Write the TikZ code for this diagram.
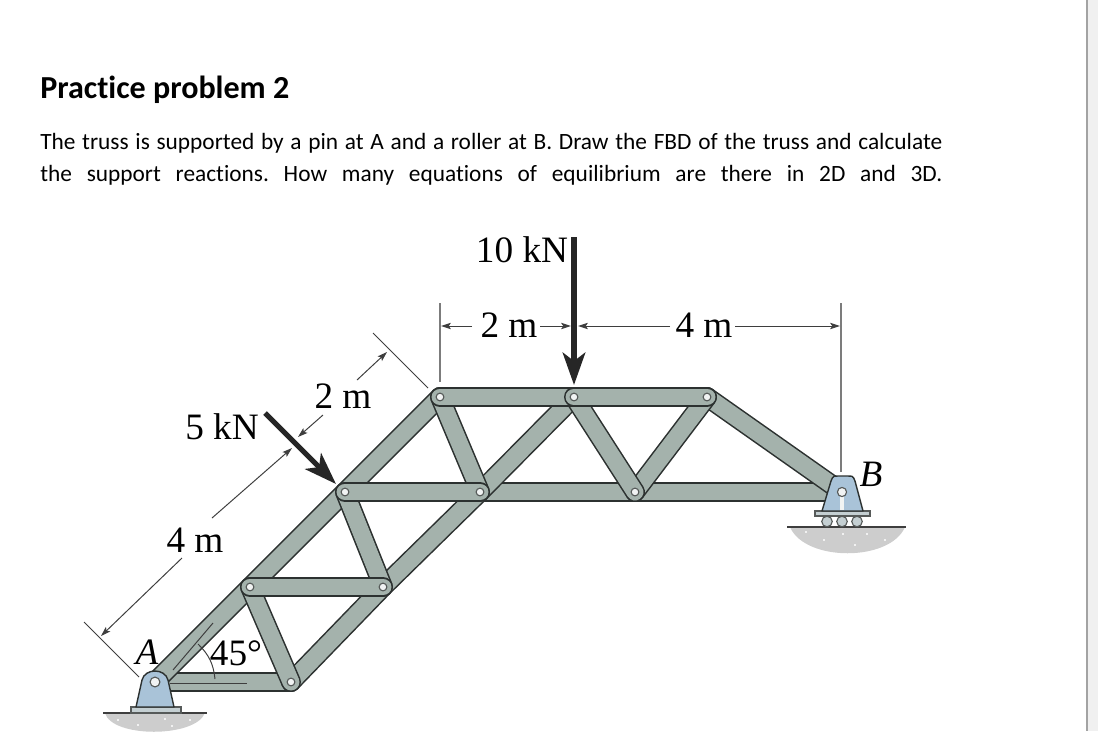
\documentclass[tikz,border=0pt]{standalone}
\usepackage{fontspec}
\setmainfont[Ligatures=CommonOff]{Carlito}
\newfontfamily\figfont{Liberation Serif}
\usetikzlibrary{arrows.meta}
\definecolor{memberfill}{HTML}{A4B2AC}
\definecolor{memberedge}{HTML}{2C3130}
\definecolor{supportfill}{HTML}{A9C3D8}
\definecolor{platefill}{HTML}{C4CFD2}
\definecolor{groundfill}{HTML}{CDCDCD}
\definecolor{dimgray}{HTML}{3E3E3E}
\definecolor{extgray}{HTML}{7C7C7C}
\tikzset{
	member/.style={line cap=round,line join=round,draw=memberedge,line width=1.1pt,double=memberfill,double distance=12pt},
	hole/.style={circle,draw=memberedge!80,fill=white!85!memberfill,line width=0.8pt,inner sep=0pt,minimum size=5.5pt},
	support/.style={draw=memberedge,fill=supportfill,line width=1pt,line join=round},
	plate/.style={draw=memberedge!80,fill=platefill,line width=0.8pt},
	ground/.style={fill=groundfill,draw=none},
	floorline/.style={draw=dimgray,line width=1pt},
	dimline/.style={draw=dimgray,line width=0.7pt},
	extline/.style={draw=extgray,line width=1.1pt},
	force/.style={draw=black!85,line width=3.6pt,-{Stealth[length=23pt,width=16pt,inset=6pt]}},
	figtext/.style={font=\figfont\fontsize{26.5}{26.5}\selectfont,inner sep=0pt},
	speck/.style={circle,fill=white,inner sep=0pt,minimum size=1.5pt}
}
\begin{document}
\begin{tikzpicture}[x=0.025cm,y=-0.025cm,>={Stealth[length=7pt,width=4.5pt,inset=1.5pt]}]
	\useasboundingbox (0,0) rectangle (1098,731);
	\fill[black!6] (1087,0) rectangle (1098,731);
	\draw[extgray!70,line width=0.8pt] (1087,0) -- (1087,731);

	\node[anchor=base west,inner sep=0pt,font=\bfseries\fontsize{22.8}{22.8}\selectfont] (title) at (40,98) {Practice problem 2};
	\node[anchor=base west,inner sep=0pt,text width=641.5pt,align=justify,font=\fontsize{16.6}{22.8}\selectfont] (problem) at (40,149)
		{\frenchspacing\parfillskip=0pt The truss is supported by a pin at A and a roller at B. Draw the FBD of the truss and calculate\linebreak
		the support reactions. How many equations of equilibrium are there in 2D and 3D.\par};

	\coordinate (a) at (155,682);
	\coordinate (b) at (842,492);
	\coordinate (l1) at (250,587);
	\coordinate (l2) at (345,492);
	\coordinate (t1) at (440,397);
	\coordinate (t2) at (574,397);
	\coordinate (t3) at (707,397);
	\coordinate (r1) at (291,682);
	\coordinate (r2) at (383,587);
	\coordinate (m1) at (480,492);
	\coordinate (m2) at (635,492);

	\draw[member] (a) -- (r1);
	\draw[member] (m1) -- (b);
	\draw[member] (t3) -- (b);
	\draw[member] (a) -- (l1) -- (l2) -- (t1);
	\draw[member] (r1) -- (r2) -- (m1) -- (t2);
	\draw[member] (t3) -- (m2);
	\draw[member] (t2) -- (m2);
	\draw[member] (t1) -- (m1);
	\draw[member] (l2) -- (r2);
	\draw[member] (l1) -- (r1);
	\draw[member] (l1) -- (r2);
	\draw[member] (l2) -- (m1);
	\draw[member] (t1) -- (t2);
	\draw[member] (t2) -- (t3);

	\foreach \j in {l1,l2,t1,t2,t3,r1,r2,m1,m2}
		\node[hole] (h\j) at (\j) {};

	\fill[ground] (105,713) .. controls (112,738) and (195,738) .. (205,713) -- cycle;
	\fill[ground] (790,527) .. controls (805,562) and (890,562) .. (905,527) -- cycle;
	\foreach \i/\x/\y in {1/118/720,2/138/725,3/165/719,4/172/726,5/190/720,6/806/532,7/824/540,8/843/534,9/855/545,10/867/534,11/885/540}
		\node[speck] (speck\i) at (\x,\y) {};

	\draw[floorline] (103,713) -- (207,713);
	\draw[floorline] (787,527) -- (906,527);

	\draw[plate] (131,707) rectangle (181,713);
	\draw[support] (136,707) -- (142,680) .. controls (145,668) and (165,668) .. (168,680) -- (174,707) -- cycle;
	\node[hole,minimum size=7pt] (pinA) at (a) {};

	\foreach \i/\x in {1/827,2/842,3/857}
		\node[hole,minimum size=7.5pt,fill=platefill] (roller\i) at (\x,521.5) {};
	\draw[plate] (815,511) rectangle (870,516);
	\draw[support] (822,511) -- (831,481) .. controls (833,475) and (835,476) .. (838,476) -- (848,476) .. controls (851,476) and (853,475) .. (855,481) -- (863,511) -- cycle;
	\fill[white!85!memberfill] (840,492) rectangle (844,510);
	\node[hole,minimum size=6.5pt] (pinB) at (b) {};

	\coordinate (forceA) at (574,237);
	\coordinate (forceB) at (574,385);
	\draw[force] (forceA) -- (forceB);
	\coordinate (forceC) at (265,413);
	\coordinate (forceD) at (336,484);
	\draw[force] (forceC) -- (forceD);

	\node[figtext] (load1) at (522,250) {10 kN};
	\node[figtext] (load2) at (222,427) {5 kN};
	\node[figtext] (dim1) at (509,325) {2 m};
	\node[figtext] (dim2) at (704,325) {4 m};
	\node[figtext] (dim3) at (343,396) {2 m};
	\node[figtext] (dim4) at (195,540) {4 m};
	\node[figtext,font=\figfont\itshape\fontsize{26.5}{26.5}\selectfont] (pinlabel) at (147,652) {A};
	\node[figtext,font=\figfont\itshape\fontsize{26.5}{26.5}\selectfont] (rollerlabel) at (871,474) {B};
	\node[figtext] (angle) at (236,653) {45°};

	\coordinate (e1a) at (440,303);
	\coordinate (e1b) at (440,382);
	\coordinate (e2a) at (841,303);
	\coordinate (e2b) at (841,472);
	\draw[extline] (e1a) -- (e1b);
	\draw[extline] (e2a) -- (e2b);
	\coordinate (e3a) at (373,333);
	\coordinate (e3b) at (428,388);
	\coordinate (e4a) at (84,622);
	\coordinate (e4b) at (139,677);
	\draw[dimline] (e3a) -- (e3b);
	\draw[dimline] (e4a) -- (e4b);

	\coordinate (d1a) at (441,326);
	\coordinate (d1b) at (472,326);
	\coordinate (d1c) at (540,326);
	\coordinate (d1d) at (571,326);
	\coordinate (d2a) at (578,326);
	\coordinate (d2b) at (670,326);
	\coordinate (d2c) at (735,326);
	\coordinate (d2d) at (840,326);
	\draw[dimline,->] (d1b) -- (d1a);
	\draw[dimline,->] (d1c) -- (d1d);
	\draw[dimline,->] (d2b) -- (d2a);
	\draw[dimline,->] (d2c) -- (d2d);

	\coordinate (d3a) at (323,415);
	\coordinate (d3b) at (298,437);
	\coordinate (d3c) at (357,380);
	\coordinate (d3d) at (387,352);
	\draw[dimline,->] (d3a) -- (d3b);
	\draw[dimline,->] (d3c) -- (d3d);
	\coordinate (d4a) at (182,558);
	\coordinate (d4b) at (101,636);
	\coordinate (d4c) at (212,518);
	\coordinate (d4d) at (292,448);
	\draw[dimline,->] (d4a) -- (d4b);
	\draw[dimline,->] (d4c) -- (d4d);

	\coordinate (g1a) at (173,670);
	\coordinate (g1b) at (213,623);
	\coordinate (g2a) at (170,683);
	\coordinate (g2b) at (247,683);
	\coordinate (g3a) at (198,644);
	\coordinate (g3b) at (215,679);
	\draw[dimline] (g1a) -- (g1b);
	\draw[dimline] (g2a) -- (g2b);
	\draw[dimline] (g3a) to[bend left=20] (g3b);
\end{tikzpicture}
\end{document}
